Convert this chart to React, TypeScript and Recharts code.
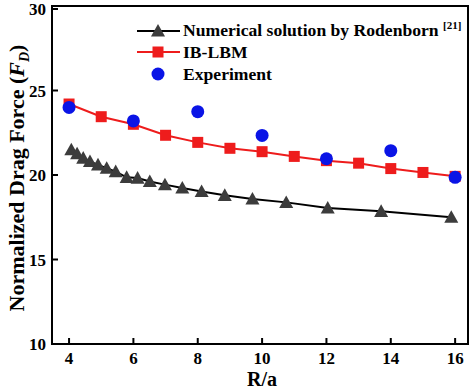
import {
  ComposedChart,
  Line,
  Scatter,
  XAxis,
  YAxis,
  ReferenceArea,
} from "recharts";

const RODENBORN_X = [4.07, 4.25, 4.44, 4.65, 4.9, 5.17, 5.45, 5.79, 6.13, 6.51, 6.98, 7.52, 8.12, 8.84, 9.7, 10.75, 12.04, 13.7, 15.88];
const RODENBORN_Y = [21.5, 21.26, 21.0, 20.8, 20.6, 20.4, 20.2, 19.86, 19.82, 19.62, 19.43, 19.23, 19.03, 18.8, 18.58, 18.38, 18.05, 17.85, 17.5];

const IBLBM_X = [4, 5, 6, 7, 8, 9, 10, 11, 12, 13, 14, 15, 16];
const IBLBM_Y = [24.2, 23.45, 23.0, 22.35, 21.93, 21.58, 21.38, 21.1, 20.85, 20.7, 20.38, 20.15, 19.92];

const EXP_X = [4, 6, 8, 10, 12, 14, 16];
const EXP_Y = [24.0, 23.2, 23.75, 22.34, 20.96, 21.44, 19.86];

const X_TICKS = [4, 6, 8, 10, 12, 14, 16];
const Y_TICKS = [10, 15, 20, 25, 30];

const rodenborn = RODENBORN_X.map((x, i) => ({ x, y: RODENBORN_Y[i] }));
const iblbm = IBLBM_X.map((x, i) => ({ x, y: IBLBM_Y[i] }));
const experiment = EXP_X.map((x, i) => ({ x, y: EXP_Y[i] }));

const FONT = "'Liberation Serif', 'Times New Roman', serif";
const RED = "#ee1c1c";
const BLUE = "#0a14e6";
const GREY = "#3c3c3c";

function Triangle({ cx, cy }: any) {
  if (cx == null || cy == null) return null;
  const s = 7;
  return (
    <path
      d={`M${cx},${cy - s} L${cx + s},${cy + s * 0.8} L${cx - s},${cy + s * 0.8} Z`}
      fill={GREY}
    />
  );
}

function Square({ cx, cy }: any) {
  if (cx == null || cy == null) return null;
  return <rect x={cx - 5.5} y={cy - 5.5} width={11} height={11} fill={RED} />;
}

function Circle({ cx, cy }: any) {
  if (cx == null || cy == null) return null;
  return <circle cx={cx} cy={cy} r={6.5} fill={BLUE} />;
}

function XTick({ x, y, payload }: any) {
  return (
    <g>
      <line x1={x} x2={x} y1={y} y2={y - 6} stroke="#000" strokeWidth={2} />
      <text x={x} y={y + 20} textAnchor="middle" fontFamily={FONT} fontWeight="bold" fontSize={17} fill="#000">
        {payload.value}
      </text>
    </g>
  );
}

function YTick({ x, y, payload }: any) {
  return (
    <g>
      <line x1={x} x2={x + 6} y1={y} y2={y} stroke="#000" strokeWidth={2} />
      <text x={x - 6} y={y + 6} textAnchor="end" fontFamily={FONT} fontWeight="bold" fontSize={17} fill="#000">
        {payload.value}
      </text>
    </g>
  );
}

function LegendBox() {
  const rowStyle = { display: "flex", alignItems: "center", height: 22 };
  const textStyle = { fontFamily: FONT, fontWeight: "bold" as const, fontSize: 17.6, color: "#000", marginLeft: 3, whiteSpace: "nowrap" as const };
  return (
    <div style={{ position: "absolute", left: 137, top: 19 }}>
      <div style={rowStyle}>
        <svg width={43} height={16}>
          <line x1={0} x2={43} y1={9} y2={9} stroke="#000" strokeWidth={2} />
          <Triangle cx={21} cy={9} />
        </svg>
        <span style={textStyle}>
          Numerical solution by Rodenborn <sup style={{ fontSize: 11 }}>[21]</sup>
        </span>
      </div>
      <div style={rowStyle}>
        <svg width={43} height={16}>
          <line x1={0} x2={43} y1={8} y2={8} stroke={RED} strokeWidth={2} />
          <Square cx={21} cy={8} />
        </svg>
        <span style={textStyle}>IB-LBM</span>
      </div>
      <div style={rowStyle}>
        <svg width={43} height={16}>
          <Circle cx={21} cy={8} />
        </svg>
        <span style={textStyle}>Experiment</span>
      </div>
    </div>
  );
}

function YLabel() {
  return (
    <text
      transform="translate(24,178) rotate(-90)"
      textAnchor="middle"
      fontFamily={FONT}
      fontWeight="bold"
      fontSize={22}
      fill="#000"
    >
      Normalized Drag Force (
      <tspan fontStyle="italic">F</tspan>
      <tspan fontStyle="italic" fontSize={14} dy={5}>D</tspan>
      <tspan dy={-5}>)</tspan>
    </text>
  );
}

function XLabel() {
  return (
    <text x={262} y={386} textAnchor="middle" fontFamily={FONT} fontWeight="bold" fontSize={20} fill="#000">
      R/a
    </text>
  );
}

export default function App() {
  return (
    <div style={{ position: "absolute", left: 0, top: 0, width: 474, height: 391, background: "#fff" }}>
      <ComposedChart width={474} height={391} margin={{ top: 6, right: 6, left: 0, bottom: 0 }}>
        <XAxis
          type="number"
          dataKey="x"
          domain={[3.47, 16.4]}
          ticks={X_TICKS}
          allowDataOverflow
          tickSize={0}
          tickMargin={0}
          tickLine={false}
          tick={<XTick />}
          axisLine={{ stroke: "#000", strokeWidth: 2 }}
          height={47}
          label={{ value: "x", content: () => <XLabel /> }}
        />
        <YAxis
          type="number"
          dataKey="y"
          domain={[10, 30]}
          ticks={Y_TICKS}
          allowDataOverflow
          tickSize={0}
          tickMargin={0}
          tickLine={false}
          tick={<YTick />}
          axisLine={{ stroke: "#000", strokeWidth: 2 }}
          width={52}
          label={{ value: "y", content: () => <YLabel /> }}
        />
        <ReferenceArea
          x1={3.47}
          x2={16.4}
          y1={10}
          y2={30}
          fill="none"
          stroke="#000"
          strokeWidth={2}
          ifOverflow="visible"
        />
        <Line
          data={rodenborn}
          dataKey="y"
          name="Numerical solution by Rodenborn"
          stroke="#000"
          strokeWidth={2}
          dot={<Triangle />}
          activeDot={false}
          isAnimationActive={false}
        />
        <Line
          data={iblbm}
          dataKey="y"
          name="IB-LBM"
          stroke={RED}
          strokeWidth={2}
          dot={<Square />}
          activeDot={false}
          isAnimationActive={false}
        />
        <Scatter
          data={experiment}
          dataKey="y"
          name="Experiment"
          shape={<Circle />}
          isAnimationActive={false}
        />
      </ComposedChart>
      <LegendBox />
    </div>
  );
}
